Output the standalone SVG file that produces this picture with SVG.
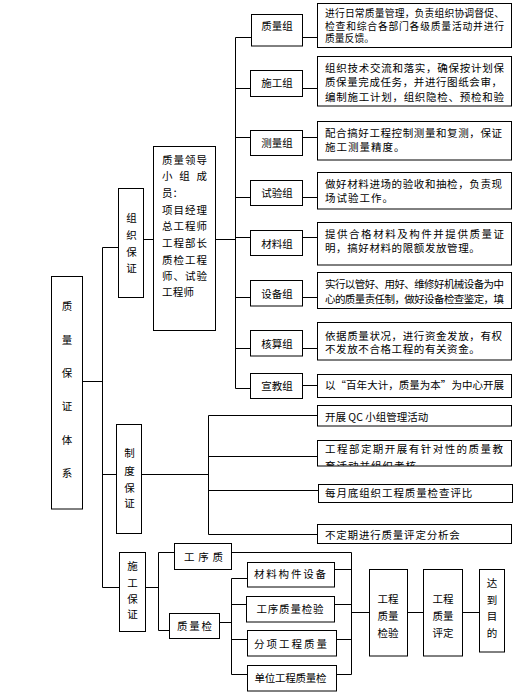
<svg xmlns="http://www.w3.org/2000/svg" width="527" height="696" viewBox="0 0 527 696">
<style>
rect{fill:#fff;stroke:#000;stroke-width:1}
#connectors path{fill:none;stroke:#000;stroke-width:1}
text{font-family:"Noto Sans CJK SC","Noto Sans",sans-serif;font-size:10.5px;fill:#000;dominant-baseline:central}
.c{text-anchor:middle}
.s{font-size:9.8px}
</style>
<defs>
<clipPath id="clipGcb"><rect x="317.5" y="440.5" width="194" height="25.5"/></clipPath>
</defs>
<rect x="0" y="0" width="527" height="696" style="fill:#fff;stroke:none"/>
<g id="connectors">
<path d="M82.5,381.5H102.5M102.5,247.5V587.5M102.5,247.5H118.5M102.5,474.5H116.5M102.5,587.5H119.5"/>
<path d="M143.5,239.5H153.5M215.5,239.5H235.5M235.5,37.5V388.5"/>
<path d="M235.5,37.5H251.5M235.5,88.5H251.5M235.5,137.5H251.5M235.5,197.5H251.5M235.5,237.5H251.5M235.5,297.5H251.5M235.5,348.5H251.5M235.5,388.5H251.5"/>
<path d="M302.5,37.5H317.5M302.5,88.5H317.5M302.5,137.5H317.5M302.5,197.5H317.5M302.5,237.5H317.5M302.5,297.5H317.5M302.5,348.5H317.5M302.5,385.5H317.5"/>
<path d="M141.5,474.5H208.5M208.5,415.5V534.5M208.5,415.5H317.5M208.5,456.5H317.5M208.5,490.5H318.5M208.5,534.5H317.5"/>
<path d="M145.5,587.5H158.5M158.5,552.5V630.5M158.5,552.5H174.5M158.5,630.5H169.5"/>
<path d="M231.5,552.5H351.5M351.5,552.5V674.5M334.5,569.5H351.5M334.5,604.5H351.5M336.5,639.5H351.5M336.5,674.5H351.5"/>
<path d="M219.5,622.5H231.5M231.5,578.5V674.5M231.5,578.5H247.5M231.5,604.5H246.5M231.5,639.5H247.5M231.5,674.5H247.5"/>
<path d="M351.5,612.5H369.5M407.5,612.5H423.5M462.5,612.5H479.5"/>
</g>
<g id="root">
<rect x="51.5" y="276.5" width="31" height="232.5"/>
<text class="c" x="67" y="305">质</text><text class="c" x="67" y="339">量</text><text class="c" x="67" y="372">保</text><text class="c" x="67" y="405">证</text><text class="c" x="67" y="439">体</text><text class="c" x="67" y="472">系</text>
</g>
<g id="zzbz">
<rect x="118.5" y="188.5" width="25" height="109"/>
<text class="c" x="131.5" y="217">组</text><text class="c" x="131.5" y="234">织</text><text class="c" x="131.5" y="251">保</text><text class="c" x="131.5" y="267">证</text>
</g>
<g id="leader">
<rect x="153.5" y="146.5" width="62" height="184"/>
<text x="162" y="159" textLength="45" lengthAdjust="spacing">质量领导</text>
<text x="162" y="175" textLength="45" lengthAdjust="spacing">小 组 成</text>
<text x="162" y="192">员：</text>
<text x="162" y="209" textLength="45" lengthAdjust="spacing">项目经理</text>
<text x="162" y="225.5" textLength="45" lengthAdjust="spacing">总工程师</text>
<text x="162" y="242" textLength="45" lengthAdjust="spacing">工程部长</text>
<text x="162" y="259" textLength="45" lengthAdjust="spacing">质检工程</text>
<text x="162" y="275" textLength="45" lengthAdjust="spacing">师、试验</text>
<text x="162" y="291.5" style="letter-spacing:0.3px">工程师</text>
</g>
<g id="g-zl"><rect x="251.5" y="14.5" width="51" height="31.5"/><text class="c" x="277" y="25">质量组</text></g>
<g id="d-zl"><rect x="317.5" y="3.5" width="194" height="44"/>
<text class="s" x="325" y="13" textLength="179" lengthAdjust="spacing">进行日常质量管理，负责组织协调督促、</text>
<text class="s" x="325" y="25.5" textLength="179" lengthAdjust="spacing">检查和综合各部门各级质量活动并进行</text>
<text class="s" x="325" y="38">质量反馈。</text></g>
<g id="g-sg"><rect x="250.5" y="70.5" width="52" height="26"/><text class="c" x="277" y="82">施工组</text></g>
<g id="d-sg"><rect x="317.5" y="56.5" width="194" height="49.5"/>
<text x="325" y="67" textLength="179" lengthAdjust="spacing">组织技术交流和落实，确保按计划保</text>
<text x="325" y="81.5" textLength="177" lengthAdjust="spacing">质保量完成任务，并进行图纸会审，</text>
<text x="325" y="96.5" textLength="179" lengthAdjust="spacing">编制施工计划，组织隐检、预检和验</text></g>
<g id="g-cl"><rect x="250.5" y="130.5" width="52" height="25"/><text class="c" x="277" y="142">测量组</text></g>
<g id="d-cl"><rect x="317.5" y="121.5" width="194" height="38.5"/>
<text x="325" y="132.5" textLength="177" lengthAdjust="spacing">配合搞好工程控制测量和复测，保证</text>
<text x="325" y="146" style="letter-spacing:1px">施工测量精度。</text></g>
<g id="g-sy"><rect x="250.5" y="180.5" width="52" height="25"/><text class="c" x="277" y="192">试验组</text></g>
<g id="d-sy"><rect x="317.5" y="172.5" width="194" height="36.5"/>
<text x="325" y="183.5" textLength="177" lengthAdjust="spacing">做好材料进场的验收和抽检，负责现</text>
<text x="325" y="197.5" style="letter-spacing:1px">场试验工作。</text></g>
<g id="g-cl2"><rect x="250.5" y="230.5" width="52" height="25"/><text class="c" x="277" y="243.5">材料组</text></g>
<g id="d-cl2"><rect x="317.5" y="222.5" width="194" height="42.5"/>
<text x="325" y="233.5" textLength="179" lengthAdjust="spacing">提供合格材料及构件并提供质量证</text>
<text x="325" y="247.5" style="letter-spacing:0.6px">明，搞好材料的限额发放管理。</text></g>
<g id="g-sb"><rect x="250.5" y="280.5" width="52" height="25.5"/><text class="c" x="277" y="293">设备组</text></g>
<g id="d-sb"><rect x="317.5" y="272.5" width="194" height="36"/>
<text x="325" y="283.5" textLength="179" lengthAdjust="spacing">实行以管好、用好、维修好机械设备为中</text>
<text x="325" y="298" textLength="179" lengthAdjust="spacing">心的质量责任制，做好设备检查鉴定，填</text></g>
<g id="g-hs"><rect x="250.5" y="330.5" width="52" height="25.5"/><text class="c" x="277" y="343">核算组</text></g>
<g id="d-hs"><rect x="317.5" y="322.5" width="194" height="37.5"/>
<text x="325" y="335" textLength="177" lengthAdjust="spacing">依据质量状况，进行资金发放，有权</text>
<text x="325" y="348.5" style="letter-spacing:0.6px">不发放不合格工程的有关资金。</text></g>
<g id="g-xj"><rect x="250.5" y="373.5" width="52" height="25"/><text class="c" x="277" y="385">宣教组</text></g>
<g id="d-xj"><rect x="317.5" y="374.5" width="194" height="23"/>
<text x="325" y="384.5" textLength="179" lengthAdjust="spacing">以“百年大计，质量为本”为中心开展</text></g>
<g id="zdbz">
<rect x="116.5" y="424.5" width="25" height="109"/>
<text class="c" x="129.5" y="452.5">制</text><text class="c" x="129.5" y="470.5">度</text><text class="c" x="129.5" y="487">保</text><text class="c" x="129.5" y="502.5">证</text>
</g>
<g id="qc"><rect x="317.5" y="405.5" width="194" height="20.5"/>
<text x="325" y="416">开展 QC 小组管理活动</text></g>
<g id="gcb"><rect x="317.5" y="440.5" width="194" height="25.5"/>
<text x="325" y="448.5" textLength="178" lengthAdjust="spacing">工程部定期开展有针对性的质量教</text>
<text x="325" y="465" clip-path="url(#clipGcb)" style="letter-spacing:1px">育活动并组织考核</text></g>
<g id="myd"><rect x="318.5" y="484.5" width="194" height="18"/>
<text x="325" y="492" style="letter-spacing:0.9px">每月底组织工程质量检查评比</text></g>
<g id="bdq"><rect x="317.5" y="524.5" width="194" height="19"/>
<text x="325" y="534" style="letter-spacing:0.8px">不定期进行质量评定分析会</text></g>
<g id="sgbz">
<rect x="119.5" y="552.5" width="26" height="79"/>
<text class="c" x="132.5" y="565">施</text><text class="c" x="132.5" y="582">工</text><text class="c" x="132.5" y="598.5">保</text><text class="c" x="132.5" y="613.5">证</text>
</g>
<g id="gxz"><rect x="174.5" y="543.5" width="57" height="26"/>
<text x="184" y="556" textLength="39" lengthAdjust="spacing">工 序 质</text></g>
<g id="zlj"><rect x="169.5" y="613.5" width="50" height="25"/>
<text x="177" y="625.5" textLength="35" lengthAdjust="spacing">质量检</text></g>
<g id="clgj"><rect x="247.5" y="562.5" width="87" height="24.5"/>
<text x="254" y="573" textLength="72" lengthAdjust="spacing">材料构件设备</text></g>
<g id="gxzljy"><rect x="246.5" y="596.5" width="88" height="25.5"/>
<text x="256.5" y="608.5" textLength="67" lengthAdjust="spacing">工序质量检验</text></g>
<g id="fx"><rect x="247.5" y="630.5" width="89" height="25.5"/>
<text x="254" y="643.5" textLength="73" lengthAdjust="spacing">分项工程质量</text></g>
<g id="dw"><rect x="247.5" y="665.5" width="89" height="25.5"/>
<text x="254.5" y="677" textLength="72" lengthAdjust="spacing">单位工程质量检</text></g>
<g id="gczljy"><rect x="369.5" y="569.5" width="38" height="86.5"/>
<text class="c" x="388" y="598.5">工程</text><text class="c" x="388" y="615">质量</text><text class="c" x="388" y="632">检验</text></g>
<g id="gczlpd"><rect x="423.5" y="569.5" width="39" height="86.5"/>
<text class="c" x="443" y="598.5">工程</text><text class="c" x="443" y="615">质量</text><text class="c" x="443" y="632">评定</text></g>
<g id="ddmd"><rect x="479.5" y="569.5" width="25" height="82.5"/>
<text class="c" x="492" y="582.5">达</text><text class="c" x="492" y="599.5">到</text><text class="c" x="492" y="615">目</text><text class="c" x="492" y="632">的</text></g>
</svg>
